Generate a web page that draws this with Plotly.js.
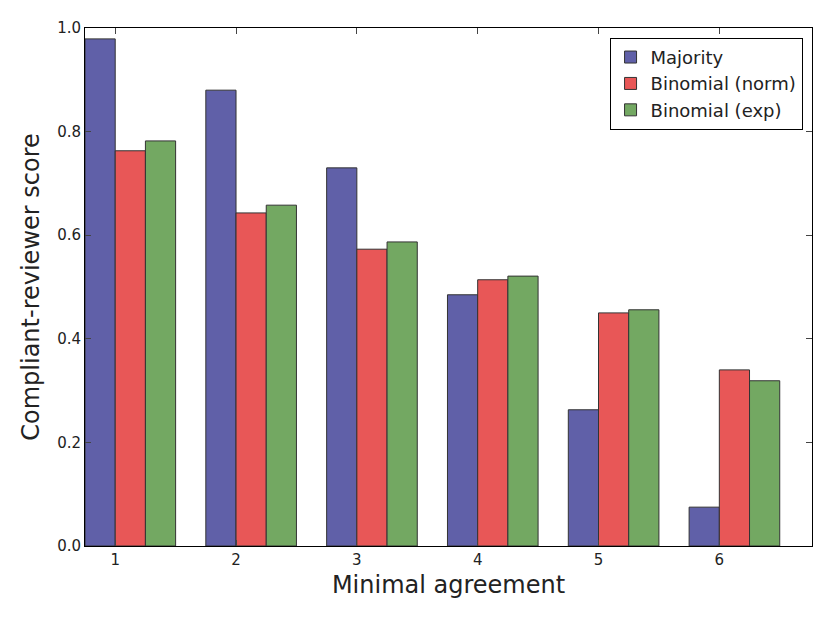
<!DOCTYPE html>
<html><head><meta charset="utf-8">
<script src="https://cdn.plot.ly/plotly-3.0.1.min.js"></script>
<style>body{margin:0;background:#fff}</style></head>
<body><div id="plot" style="width:832px;height:620px"></div>
<script>
const categories = [1, 2, 3, 4, 5, 6];
const majority = [0.979, 0.880, 0.730, 0.485, 0.263, 0.075];
const binomNorm = [0.763, 0.643, 0.573, 0.514, 0.450, 0.340];
const binomExp = [0.782, 0.658, 0.587, 0.521, 0.456, 0.319];

const series = [
  { name: 'Majority', y: majority, color: '#6060a8', offset: -0.25 },
  { name: 'Binomial (norm)', y: binomNorm, color: '#e85757', offset: 0 },
  { name: 'Binomial (exp)', y: binomExp, color: '#73a862', offset: 0.25 },
];

const traces = series.map(s => ({
  type: 'bar', x: categories, y: s.y, name: s.name,
  offset: s.offset, width: 0.25,
  marker: { color: s.color, line: { color: '#333', width: 1 } },
}));

const axisBase = {
  showgrid: false, zeroline: false, showline: true, mirror: 'ticks',
  linecolor: '#000', linewidth: 1, ticks: 'inside', ticklen: 6,
  tickfont: { size: 15, color: '#222' },
};

Plotly.newPlot('plot', traces, {
  width: 832, height: 620,
  font: { family: 'DejaVu Sans' },
  paper_bgcolor: '#fff', plot_bgcolor: '#fff',
  barmode: 'overlay',
  margin: { l: 85, r: 20, t: 28, b: 74 },
  xaxis: { ...axisBase, range: [0.75, 6.767], tickvals: categories,
           title: { text: 'Minimal agreement', font: { size: 24, color: '#222' }, standoff: 8 } },
  yaxis: { ...axisBase, range: [0, 1], dtick: 0.2, tickformat: '.1f',
           title: { text: 'Compliant-reviewer score', font: { size: 24, color: '#222' }, standoff: 10 } },
  legend: { x: 0.987, xanchor: 'right', y: 0.981, yanchor: 'top',
            bordercolor: '#000', borderwidth: 1, bgcolor: '#fff',
            font: { size: 18, color: '#222' } },
  showlegend: true,
}, { displayModeBar: false });
</script></body></html>
